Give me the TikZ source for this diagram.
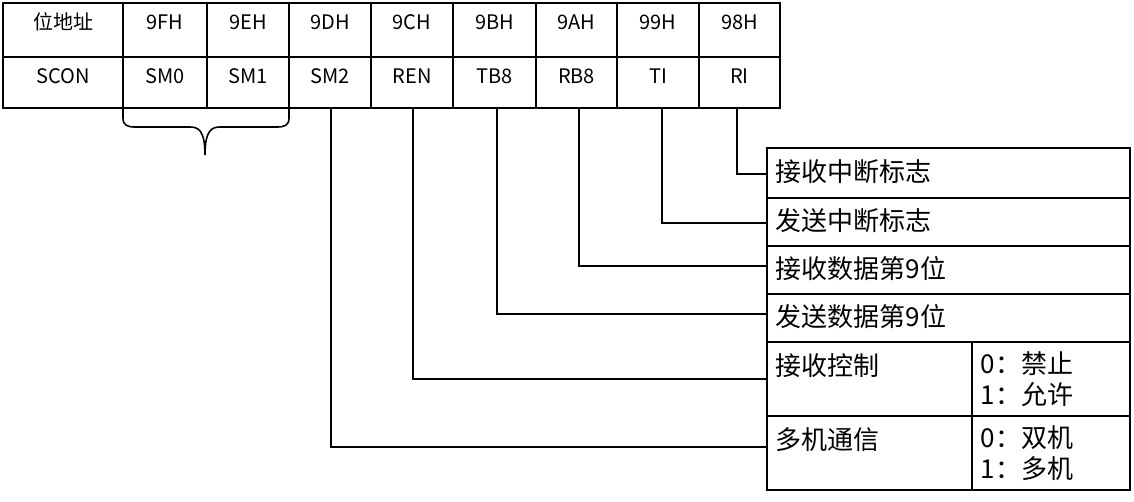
\documentclass[tikz,border=0pt]{standalone}
\usepackage{fontspec}
\setmainfont{Noto Sans CJK SC}
\begin{document}
\begin{tikzpicture}[x=1pt,y=-1pt,line width=1.6pt,
  t/.style={font=\fontsize{20}{24}\selectfont,inner sep=0pt},
  b/.style={font=\fontsize{26}{30}\selectfont,inner sep=0pt,anchor=west}]
\useasboundingbox (0,0) rectangle (1134,501);
\draw (3,3) rectangle (780,108);
\draw (3,57) -- (780,57);
\foreach \x in {123,207,289,371,453,536,617,699} \draw (\x,3) -- (\x,108);
\foreach \x/\a/\b [count=\i] in {63/位地址/SCON,165/9FH/SM0,248/9EH/SM1,330/9DH/SM2,412/9CH/REN,494.5/9BH/TB8,576.5/9AH/RB8,658/99H/TI,739.5/98H/RI}{
  \node[t] (a\i) at (\x,22) {\a};
  \node[t] (s\i) at (\x,76) {\b};
}
\draw (123,108) -- (123,118) .. controls (123,125) and (127,127) .. (135,127) -- (190,127)
  .. controls (198,127) and (205,130) .. (205,155)
  .. controls (205,130) and (212,127) .. (220,127) -- (277,127)
  .. controls (285,127) and (289,125) .. (289,118) -- (289,108);
\draw (767,148) rectangle (1130,490);
\foreach \y in {198,246,294,342,416} \draw (767,\y) -- (1130,\y);
\draw (972,342) -- (972,490);
\node[b] (r1) at (775,172) {接收中断标志};
\node[b] (r2) at (775,221) {发送中断标志};
\node[b] (r3) at (775,269) {接收数据第9位};
\node[b] (r4) at (775,317) {发送数据第9位};
\node[b] (r5) at (775,366) {接收控制};
\node[b] (r6) at (775,440) {多机通信};
\node[b] (o1) at (980,364) {0：禁止};
\node[b] (o2) at (980,395) {1：允许};
\node[b] (o3) at (980,438) {0：双机};
\node[b] (o4) at (980,469) {1：多机};
\coordinate (e1) at (767,174);
\coordinate (e2) at (767,223);
\coordinate (e3) at (767,266);
\coordinate (e4) at (767,314);
\coordinate (e5) at (767,379);
\coordinate (e6) at (767,447);
\draw (737,108) |- (e1);
\draw (662,108) |- (e2);
\draw (579,108) |- (e3);
\draw (497,108) |- (e4);
\draw (413,108) |- (e5);
\draw (331,108) |- (e6);
\end{tikzpicture}
\end{document}
